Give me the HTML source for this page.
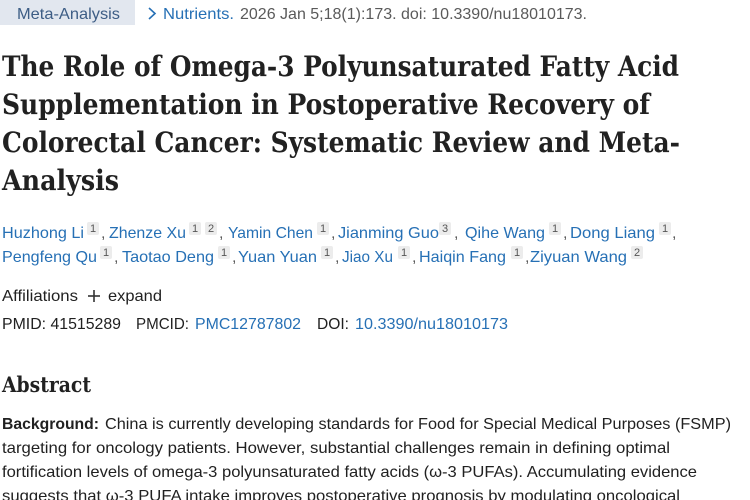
<!DOCTYPE html>
<html><head><meta charset="utf-8">
<style>
html,body{margin:0;padding:0;background:#fff;}
svg{display:block;}
.s{font-family:"Liberation Sans",sans-serif;font-size:16px;}
.t{font-family:"DejaVu Serif","Liberation Serif",serif;font-weight:bold;font-size:28px;fill:#212121;}
.b{fill:#2670b5;}
.d{fill:#212121;}
.g{fill:#5a5a5a;}
.sup{font-family:"Liberation Sans",sans-serif;font-size:11px;fill:#555;}
</style></head>
<body>
<svg width="750" height="500" viewBox="0 0 750 500" xmlns="http://www.w3.org/2000/svg">
<!-- header -->
<rect x="0" y="0" width="135" height="25" fill="#e2e7ef"/>
<text class="s" x="17" y="19" fill="#3d5d85" textLength="103" lengthAdjust="spacingAndGlyphs">Meta-Analysis</text>
<polyline points="149,8 155,13.5 149,19" fill="none" stroke="#2670b5" stroke-width="1.6"/>
<text class="s b" x="163" y="19" textLength="71" lengthAdjust="spacingAndGlyphs">Nutrients.</text>
<text class="s g" x="240" y="19" textLength="347" lengthAdjust="spacingAndGlyphs">2026 Jan 5;18(1):173. doi: 10.3390/nu18010173.</text>

<!-- title -->
<text class="t" x="2" y="76" textLength="677" lengthAdjust="spacingAndGlyphs">The Role of Omega-3 Polyunsaturated Fatty Acid</text>
<text class="t" x="2" y="114" textLength="648" lengthAdjust="spacingAndGlyphs">Supplementation in Postoperative Recovery of</text>
<text class="t" x="2" y="152" textLength="678" lengthAdjust="spacingAndGlyphs">Colorectal Cancer: Systematic Review and Meta-</text>
<text class="t" x="2" y="190" textLength="117" lengthAdjust="spacingAndGlyphs">Analysis</text>

<!-- authors line 1 -->
<g>
<text class="s b" x="2" y="238" textLength="82" lengthAdjust="spacingAndGlyphs">Huzhong Li</text>
<rect x="87" y="222" width="12" height="13" rx="2" fill="#ececec"/><text class="sup" x="93" y="232" text-anchor="middle">1</text>
<text class="s g" x="101" y="238">,</text>
<text class="s b" x="109" y="238" textLength="77" lengthAdjust="spacingAndGlyphs">Zhenze Xu</text>
<rect x="189" y="222" width="12" height="13" rx="2" fill="#ececec"/><text class="sup" x="195" y="232" text-anchor="middle">1</text>
<rect x="205" y="222" width="12" height="13" rx="2" fill="#ececec"/><text class="sup" x="211" y="232" text-anchor="middle">2</text>
<text class="s g" x="219" y="238">,</text>
<text class="s b" x="228" y="238" textLength="85" lengthAdjust="spacingAndGlyphs">Yamin Chen</text>
<rect x="317" y="222" width="12" height="13" rx="2" fill="#ececec"/><text class="sup" x="323" y="232" text-anchor="middle">1</text>
<text class="s g" x="331" y="238">,</text>
<text class="s b" x="338" y="238" textLength="101" lengthAdjust="spacingAndGlyphs">Jianming Guo</text>
<rect x="439" y="222" width="12" height="13" rx="2" fill="#ececec"/><text class="sup" x="445" y="232" text-anchor="middle">3</text>
<text class="s g" x="454" y="238">,</text>
<text class="s b" x="465" y="238" textLength="80" lengthAdjust="spacingAndGlyphs">Qihe Wang</text>
<rect x="549" y="222" width="12" height="13" rx="2" fill="#ececec"/><text class="sup" x="555" y="232" text-anchor="middle">1</text>
<text class="s g" x="563" y="238">,</text>
<text class="s b" x="570" y="238" textLength="85" lengthAdjust="spacingAndGlyphs">Dong Liang</text>
<rect x="659" y="222" width="12" height="13" rx="2" fill="#ececec"/><text class="sup" x="665" y="232" text-anchor="middle">1</text>
<text class="s g" x="672" y="238">,</text>
</g>
<!-- authors line 2 -->
<g>
<text class="s b" x="2" y="262" textLength="95" lengthAdjust="spacingAndGlyphs">Pengfeng Qu</text>
<rect x="100" y="246" width="12" height="13" rx="2" fill="#ececec"/><text class="sup" x="106" y="256" text-anchor="middle">1</text>
<text class="s g" x="114" y="262">,</text>
<text class="s b" x="122" y="262" textLength="92" lengthAdjust="spacingAndGlyphs">Taotao Deng</text>
<rect x="218" y="246" width="12" height="13" rx="2" fill="#ececec"/><text class="sup" x="224" y="256" text-anchor="middle">1</text>
<text class="s g" x="232" y="262">,</text>
<text class="s b" x="238" y="262" textLength="79" lengthAdjust="spacingAndGlyphs">Yuan Yuan</text>
<rect x="321" y="246" width="12" height="13" rx="2" fill="#ececec"/><text class="sup" x="327" y="256" text-anchor="middle">1</text>
<text class="s g" x="335" y="262">,</text>
<text class="s b" x="342" y="262" textLength="51" lengthAdjust="spacingAndGlyphs">Jiao Xu</text>
<rect x="398" y="246" width="12" height="13" rx="2" fill="#ececec"/><text class="sup" x="404" y="256" text-anchor="middle">1</text>
<text class="s g" x="412" y="262">,</text>
<text class="s b" x="419" y="262" textLength="87" lengthAdjust="spacingAndGlyphs">Haiqin Fang</text>
<rect x="511" y="246" width="12" height="13" rx="2" fill="#ececec"/><text class="sup" x="517" y="256" text-anchor="middle">1</text>
<text class="s g" x="525" y="262">,</text>
<text class="s b" x="530" y="262" textLength="97" lengthAdjust="spacingAndGlyphs">Ziyuan Wang</text>
<rect x="631" y="246" width="12" height="13" rx="2" fill="#ececec"/><text class="sup" x="637" y="256" text-anchor="middle">2</text>
</g>

<!-- affiliations -->
<text class="s d" x="2" y="301" textLength="76" lengthAdjust="spacingAndGlyphs">Affiliations</text>
<line x1="88" y1="296" x2="100" y2="296" stroke="#333" stroke-width="1.6"/>
<line x1="94" y1="290" x2="94" y2="302" stroke="#333" stroke-width="1.6"/>
<text class="s d" x="108" y="301" textLength="54" lengthAdjust="spacingAndGlyphs">expand</text>

<!-- ids -->
<text class="s d" x="2" y="329" textLength="119" lengthAdjust="spacingAndGlyphs">PMID: 41515289</text>
<text class="s d" x="136" y="329" textLength="53" lengthAdjust="spacingAndGlyphs">PMCID:</text>
<text class="s b" x="195" y="329" textLength="106" lengthAdjust="spacingAndGlyphs">PMC12787802</text>
<text class="s d" x="317" y="329" textLength="32" lengthAdjust="spacingAndGlyphs">DOI:</text>
<text class="s b" x="355" y="329" textLength="153" lengthAdjust="spacingAndGlyphs">10.3390/nu18010173</text>

<!-- abstract -->
<text x="2" y="392" font-family="DejaVu Serif, Liberation Serif, serif" font-weight="bold" font-size="21" fill="#212121" textLength="89" lengthAdjust="spacingAndGlyphs">Abstract</text>

<text class="s d" x="2" y="429" font-weight="bold" textLength="97" lengthAdjust="spacingAndGlyphs">Background:</text>
<text class="s d" x="105" y="429" textLength="626" lengthAdjust="spacingAndGlyphs">China is currently developing standards for Food for Special Medical Purposes (FSMP)</text>
<text class="s d" x="2" y="453" textLength="668" lengthAdjust="spacingAndGlyphs">targeting for oncology patients. However, substantial challenges remain in defining optimal</text>
<text class="s d" x="2" y="477" textLength="695" lengthAdjust="spacingAndGlyphs">fortification levels of omega-3 polyunsaturated fatty acids (ω-3 PUFAs). Accumulating evidence</text>
<text class="s d" x="2" y="501" textLength="678" lengthAdjust="spacingAndGlyphs">suggests that ω-3 PUFA intake improves postoperative prognosis by modulating oncological</text>
</svg>
</body></html>
